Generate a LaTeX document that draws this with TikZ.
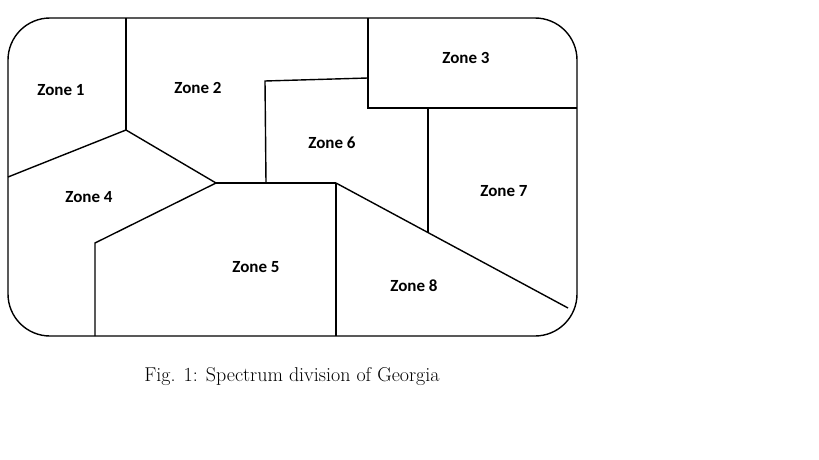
\documentclass[tikz,border=0pt]{standalone}
\usepackage{fontspec}
\newfontfamily\zf{Carlito}
\begin{document}
\begin{tikzpicture}[x=1pt,y=-1pt,line width=1.4pt,
  zone/.style={font=\zf\bfseries\fontsize{17}{20}\selectfont}]
\useasboundingbox (0,0) rectangle (819,460);
\draw[rounded corners=42pt] (8,18) rectangle (577,336);
\draw (126,18) -- (126,130);
\draw (8,177) -- (126,130) -- (216,183);
\draw (216,183) -- (336,183);
\draw (216,183) -- (95,243) -- (95,336);
\draw (336,183) -- (336,336);
\draw (266,183) -- (265,81) -- (368,78);
\draw (368,18) -- (368,108) -- (577,108);
\draw (428,108) -- (428,232);
\draw (336,183) -- (568,308);
\node[zone] (z1) at (61,90) {Zone 1};
\node[zone] (z2) at (198,88) {Zone 2};
\node[zone] (z3) at (466,58) {Zone 3};
\node[zone] (z6) at (332,143) {Zone 6};
\node[zone] (z7) at (504,191) {Zone 7};
\node[zone] (z4) at (89,197) {Zone 4};
\node[zone] (z5) at (256,267) {Zone 5};
\node[zone] (z8) at (414,286) {Zone 8};
\node[font=\fontsize{20}{24}\selectfont] (cap) at (292,377) {Fig. 1: Spectrum division of Georgia};
\end{tikzpicture}
\end{document}
